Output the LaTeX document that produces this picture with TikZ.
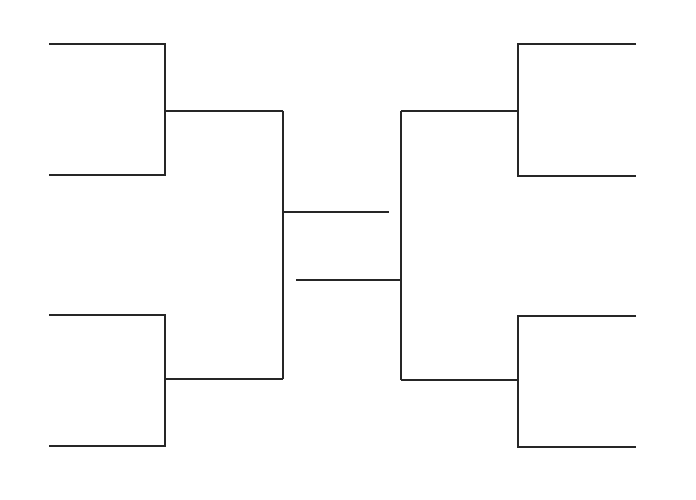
\documentclass[tikz,border=0pt]{standalone}
\begin{document}
\begin{tikzpicture}[x=1pt,y=-1pt,bracket/.style={draw=black!85,line width=1.7pt,line cap=butt,line join=miter}]
\useasboundingbox[fill=white] (0,0) rectangle (696,500);
% left top pair
\coordinate (a1) at (49,44);
\coordinate (a2) at (49,175);
\coordinate (ja1) at (165,44);
\coordinate (ja2) at (165,175);
\coordinate (ma) at (165,111);
\coordinate (sa) at (283,111);
% left bottom pair
\coordinate (b1) at (49,315);
\coordinate (b2) at (49,446);
\coordinate (jb1) at (165,315);
\coordinate (jb2) at (165,446);
\coordinate (mb) at (165,379);
\coordinate (sb) at (283,379);
\coordinate (lf) at (283,212);
\coordinate (lfe) at (389,212);
% right top pair
\coordinate (c1) at (636,44);
\coordinate (c2) at (636,176);
\coordinate (jc1) at (518,44);
\coordinate (jc2) at (518,176);
\coordinate (mc) at (518,111);
\coordinate (sc) at (401,111);
% right bottom pair
\coordinate (d1) at (636,316);
\coordinate (d2) at (636,447);
\coordinate (jd1) at (518,316);
\coordinate (jd2) at (518,447);
\coordinate (md) at (518,380);
\coordinate (sd) at (401,380);
\coordinate (rf) at (401,280);
\coordinate (rfe) at (296,280);
% draw
\draw[bracket] (a1) -- (ja1) -- (ja2) -- (a2);
\draw[bracket] (ma) -- (sa);
\draw[bracket] (b1) -- (jb1) -- (jb2) -- (b2);
\draw[bracket] (mb) -- (sb);
\draw[bracket] (sa) -- (sb);
\draw[bracket] (lf) -- (lfe);
\draw[bracket] (c1) -- (jc1) -- (jc2) -- (c2);
\draw[bracket] (mc) -- (sc);
\draw[bracket] (d1) -- (jd1) -- (jd2) -- (d2);
\draw[bracket] (md) -- (sd);
\draw[bracket] (sc) -- (sd);
\draw[bracket] (rf) -- (rfe);
\end{tikzpicture}
\end{document}
